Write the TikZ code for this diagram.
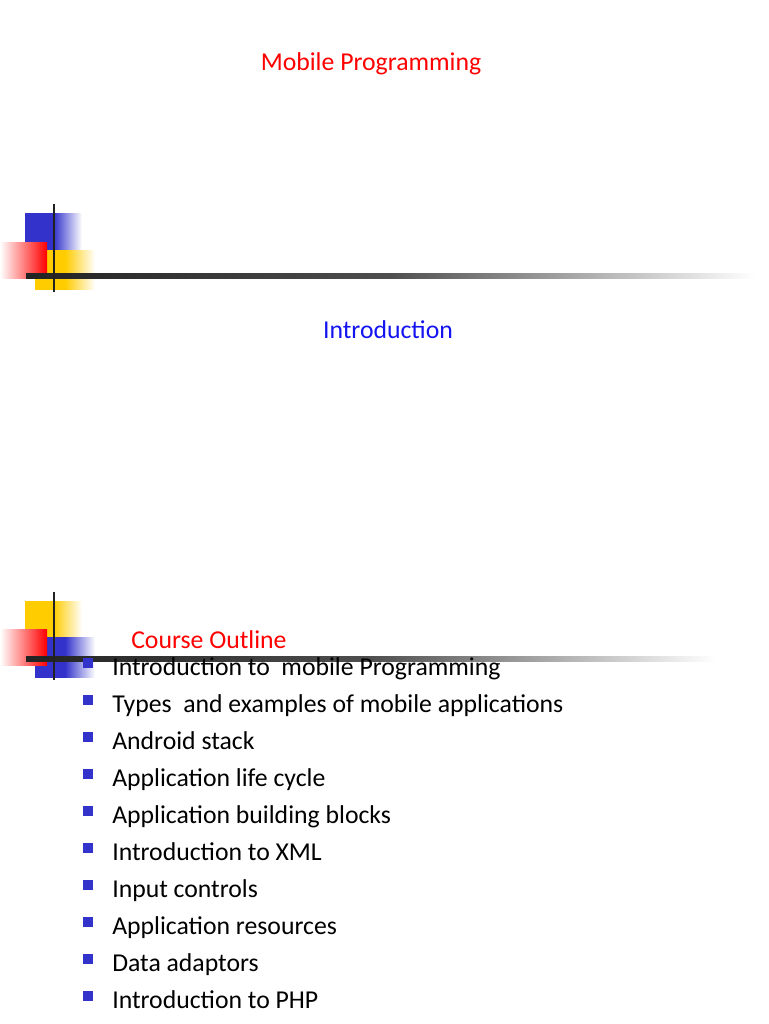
\documentclass[tikz,border=0pt]{standalone}
\usepackage{fontspec}
\setmainfont{Carlito}
\definecolor{lblue}{RGB}{51,51,204}
\definecolor{tblue}{RGB}{20,20,240}
\definecolor{lred}{RGB}{255,0,0}
\definecolor{lyel}{RGB}{255,204,0}
\definecolor{bar}{RGB}{34,34,34}
\begin{document}
\begin{tikzpicture}[x=0.75pt,y=-0.75pt,
  txt/.style={font=\fontsize{19.3}{22}\selectfont,anchor=base west,inner sep=0pt},
  bul/.style={fill=lblue,minimum size=7pt,inner sep=0pt}]
\useasboundingbox (0,0) rectangle (768,1024);
% logo 1
\shade[left color=lblue,right color=white,middle color=lblue] (25,213) rectangle (82,250);
\shade[left color=lyel,right color=white,middle color=lyel] (35,250) rectangle (95,289);
\shade[left color=white,right color=lred] (0,242) rectangle (47,278);
\shade[left color=bar,right color=white,middle color=bar!80] (26,273) rectangle (755,278);
\draw[bar,line width=2.2pt] (54,204) -- (54,292);
% logo 2
\shade[left color=lyel,right color=white,middle color=lyel] (25,601) rectangle (82,637);
\shade[left color=lblue,right color=white,middle color=lblue] (35,637) rectangle (95,677);
\shade[left color=white,right color=lred] (0,629) rectangle (47,665);
\shade[left color=bar,right color=white,middle color=bar!80] (26,656) rectangle (715,661);
\draw[bar,line width=2.2pt] (54,592) -- (54,680);
% titles
\node[txt,anchor=base,text=lred] (t1) at (371,70) {Mobile Programming};
\node[txt,anchor=base,text=tblue] (t2) at (388,338) {Introduction};
\node[txt,text=lred] (t3) at (131,648) {Course Outline};
% bullets
\foreach \i/\s in {0/Introduction to\ \ mobile Programming,1/Types\ \ and examples of mobile applications,2/Android stack,3/Application life cycle,4/Application building blocks,5/Introduction to XML,6/Input controls,7/Application resources,8/Data adaptors,9/Introduction to PHP}{
  \node[bul] (b\i) at (88,{663+37*\i}) {};
  \node[txt] (l\i) at (112,{675+37*\i}) {\s};
}
\end{tikzpicture}
\end{document}
